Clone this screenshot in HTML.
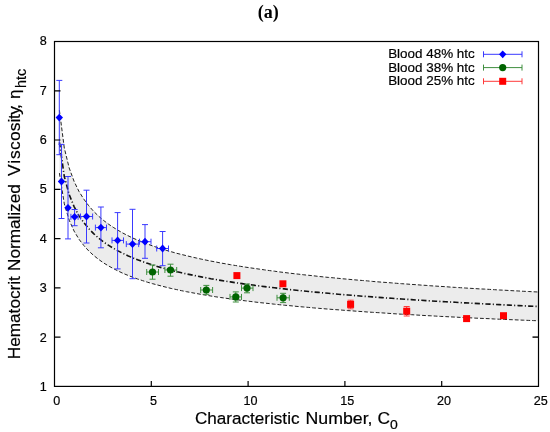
<!DOCTYPE html>
<html><head><meta charset="utf-8"><title>(a)</title>
<style>
html,body{margin:0;padding:0;background:#fff;}
body{width:550px;height:432px;overflow:hidden;}
svg{display:block;}
text{font-family:"Liberation Sans",Arial,Helvetica,sans-serif;fill:#000;stroke:#000;stroke-width:0.2px;}
.ttl{font-family:"Liberation Serif","Times New Roman",serif;font-weight:bold;font-size:18px;stroke:none;}
.tk{font-size:13.2px;}
.lg{font-size:13.45px;}
.ax{font-size:17.45px;}
.sub{font-size:14px;}
.sub2{font-size:14.4px;}
</style></head><body>
<svg width="550" height="432" viewBox="0 0 550 432">
<rect x="0" y="0" width="550" height="432" fill="#ffffff"/>
<text class="ttl" x="268.3" y="18.4" text-anchor="middle">(a)</text>
<path d="M59.4 110.2 L64.3 148.0 L69.2 168.0 L74.1 181.4 L78.9 191.3 L83.8 199.1 L88.7 205.7 L93.6 211.3 L98.5 216.1 L103.4 220.3 L108.3 224.0 L113.2 227.3 L118.1 230.3 L122.9 233.1 L127.8 235.6 L132.7 238.0 L137.6 240.1 L142.5 242.1 L147.4 244.0 L152.3 245.8 L157.2 247.5 L162.1 249.0 L166.9 250.5 L171.8 251.9 L176.7 253.3 L181.6 254.5 L186.5 255.7 L191.4 256.9 L196.3 258.0 L201.2 259.1 L206.1 260.1 L210.9 261.1 L215.8 262.0 L220.7 263.0 L225.6 263.8 L230.5 264.7 L235.4 265.5 L240.3 266.3 L245.2 267.1 L250.1 267.8 L254.9 268.5 L259.8 269.2 L264.7 269.9 L269.6 270.6 L274.5 271.2 L279.4 271.9 L284.3 272.5 L289.2 273.1 L294.1 273.7 L298.9 274.2 L303.8 274.8 L308.7 275.3 L313.6 275.8 L318.5 276.4 L323.4 276.9 L328.3 277.4 L333.2 277.8 L338.1 278.3 L342.9 278.8 L347.8 279.2 L352.7 279.7 L357.6 280.1 L362.5 280.5 L367.4 280.9 L372.3 281.4 L377.2 281.8 L382.1 282.2 L386.9 282.5 L391.8 282.9 L396.7 283.3 L401.6 283.7 L406.5 284.0 L411.4 284.4 L416.3 284.7 L421.2 285.1 L426.1 285.4 L430.9 285.8 L435.8 286.1 L440.7 286.4 L445.6 286.7 L450.5 287.1 L455.4 287.4 L460.3 287.7 L465.2 288.0 L470.1 288.3 L474.9 288.6 L479.8 288.9 L484.7 289.1 L489.6 289.4 L494.5 289.7 L499.4 290.0 L504.3 290.2 L509.2 290.5 L514.1 290.8 L518.9 291.0 L523.8 291.3 L528.7 291.5 L533.6 291.8 L538.5 292.0 L538.5 320.8 L533.6 320.6 L528.7 320.4 L523.8 320.2 L518.9 320.0 L514.1 319.8 L509.2 319.6 L504.3 319.4 L499.4 319.2 L494.5 319.0 L489.6 318.7 L484.7 318.5 L479.8 318.3 L474.9 318.1 L470.1 317.8 L465.2 317.6 L460.3 317.4 L455.4 317.1 L450.5 316.9 L445.6 316.6 L440.7 316.4 L435.8 316.1 L430.9 315.8 L426.1 315.6 L421.2 315.3 L416.3 315.0 L411.4 314.7 L406.5 314.4 L401.6 314.2 L396.7 313.9 L391.8 313.6 L386.9 313.2 L382.1 312.9 L377.2 312.6 L372.3 312.3 L367.4 312.0 L362.5 311.6 L357.6 311.3 L352.7 310.9 L347.8 310.6 L342.9 310.2 L338.1 309.8 L333.2 309.5 L328.3 309.1 L323.4 308.7 L318.5 308.3 L313.6 307.9 L308.7 307.4 L303.8 307.0 L298.9 306.6 L294.1 306.1 L289.2 305.6 L284.3 305.2 L279.4 304.7 L274.5 304.2 L269.6 303.6 L264.7 303.1 L259.8 302.6 L254.9 302.0 L250.1 301.4 L245.2 300.8 L240.3 300.2 L235.4 299.5 L230.5 298.9 L225.6 298.2 L220.7 297.5 L215.8 296.8 L210.9 296.0 L206.1 295.2 L201.2 294.4 L196.3 293.5 L191.4 292.6 L186.5 291.7 L181.6 290.7 L176.7 289.6 L171.8 288.6 L166.9 287.4 L162.1 286.2 L157.2 284.9 L152.3 283.6 L147.4 282.2 L142.5 280.6 L137.6 279.0 L132.7 277.2 L127.8 275.3 L122.9 273.3 L118.1 271.0 L113.2 268.5 L108.3 265.8 L103.4 262.8 L98.5 259.3 L93.6 255.4 L88.7 250.9 L83.8 245.5 L78.9 239.1 L74.1 231.1 L69.2 220.2 L64.3 203.9 L59.4 173.1 Z" fill="#ececec" stroke="none"/>
<path d="M59.4 110.2 L64.3 148.0 L69.2 168.0 L74.1 181.4 L78.9 191.3 L83.8 199.1 L88.7 205.7 L93.6 211.3 L98.5 216.1 L103.4 220.3 L108.3 224.0 L113.2 227.3 L118.1 230.3 L122.9 233.1 L127.8 235.6 L132.7 238.0 L137.6 240.1 L142.5 242.1 L147.4 244.0 L152.3 245.8 L157.2 247.5 L162.1 249.0 L166.9 250.5 L171.8 251.9 L176.7 253.3 L181.6 254.5 L186.5 255.7 L191.4 256.9 L196.3 258.0 L201.2 259.1 L206.1 260.1 L210.9 261.1 L215.8 262.0 L220.7 263.0 L225.6 263.8 L230.5 264.7 L235.4 265.5 L240.3 266.3 L245.2 267.1 L250.1 267.8 L254.9 268.5 L259.8 269.2 L264.7 269.9 L269.6 270.6 L274.5 271.2 L279.4 271.9 L284.3 272.5 L289.2 273.1 L294.1 273.7 L298.9 274.2 L303.8 274.8 L308.7 275.3 L313.6 275.8 L318.5 276.4 L323.4 276.9 L328.3 277.4 L333.2 277.8 L338.1 278.3 L342.9 278.8 L347.8 279.2 L352.7 279.7 L357.6 280.1 L362.5 280.5 L367.4 280.9 L372.3 281.4 L377.2 281.8 L382.1 282.2 L386.9 282.5 L391.8 282.9 L396.7 283.3 L401.6 283.7 L406.5 284.0 L411.4 284.4 L416.3 284.7 L421.2 285.1 L426.1 285.4 L430.9 285.8 L435.8 286.1 L440.7 286.4 L445.6 286.7 L450.5 287.1 L455.4 287.4 L460.3 287.7 L465.2 288.0 L470.1 288.3 L474.9 288.6 L479.8 288.9 L484.7 289.1 L489.6 289.4 L494.5 289.7 L499.4 290.0 L504.3 290.2 L509.2 290.5 L514.1 290.8 L518.9 291.0 L523.8 291.3 L528.7 291.5 L533.6 291.8 L538.5 292.0" fill="none" stroke="#222" stroke-width="1" stroke-dasharray="3.8 2"/>
<path d="M59.4 173.1 L64.3 203.9 L69.2 220.2 L74.1 231.1 L78.9 239.1 L83.8 245.5 L88.7 250.9 L93.6 255.4 L98.5 259.3 L103.4 262.8 L108.3 265.8 L113.2 268.5 L118.1 271.0 L122.9 273.3 L127.8 275.3 L132.7 277.2 L137.6 279.0 L142.5 280.6 L147.4 282.2 L152.3 283.6 L157.2 284.9 L162.1 286.2 L166.9 287.4 L171.8 288.6 L176.7 289.6 L181.6 290.7 L186.5 291.7 L191.4 292.6 L196.3 293.5 L201.2 294.4 L206.1 295.2 L210.9 296.0 L215.8 296.8 L220.7 297.5 L225.6 298.2 L230.5 298.9 L235.4 299.5 L240.3 300.2 L245.2 300.8 L250.1 301.4 L254.9 302.0 L259.8 302.6 L264.7 303.1 L269.6 303.6 L274.5 304.2 L279.4 304.7 L284.3 305.2 L289.2 305.6 L294.1 306.1 L298.9 306.6 L303.8 307.0 L308.7 307.4 L313.6 307.9 L318.5 308.3 L323.4 308.7 L328.3 309.1 L333.2 309.5 L338.1 309.8 L342.9 310.2 L347.8 310.6 L352.7 310.9 L357.6 311.3 L362.5 311.6 L367.4 312.0 L372.3 312.3 L377.2 312.6 L382.1 312.9 L386.9 313.2 L391.8 313.6 L396.7 313.9 L401.6 314.2 L406.5 314.4 L411.4 314.7 L416.3 315.0 L421.2 315.3 L426.1 315.6 L430.9 315.8 L435.8 316.1 L440.7 316.4 L445.6 316.6 L450.5 316.9 L455.4 317.1 L460.3 317.4 L465.2 317.6 L470.1 317.8 L474.9 318.1 L479.8 318.3 L484.7 318.5 L489.6 318.7 L494.5 319.0 L499.4 319.2 L504.3 319.4 L509.2 319.6 L514.1 319.8 L518.9 320.0 L523.8 320.2 L528.7 320.4 L533.6 320.6 L538.5 320.8" fill="none" stroke="#222" stroke-width="1" stroke-dasharray="3.8 2"/>
<path d="M59.4 142.3 L64.3 176.5 L69.2 194.6 L74.1 206.6 L78.9 215.6 L83.8 222.6 L88.7 228.6 L93.6 233.6 L98.5 238.0 L103.4 241.8 L108.3 245.2 L113.2 248.2 L118.1 250.9 L122.9 253.4 L127.8 255.7 L132.7 257.8 L137.6 259.8 L142.5 261.6 L147.4 263.3 L152.3 264.9 L157.2 266.4 L162.1 267.8 L166.9 269.1 L171.8 270.4 L176.7 271.6 L181.6 272.8 L186.5 273.9 L191.4 274.9 L196.3 275.9 L201.2 276.9 L206.1 277.8 L210.9 278.7 L215.8 279.5 L220.7 280.4 L225.6 281.2 L230.5 281.9 L235.4 282.7 L240.3 283.4 L245.2 284.1 L250.1 284.7 L254.9 285.4 L259.8 286.0 L264.7 286.6 L269.6 287.2 L274.5 287.8 L279.4 288.4 L284.3 288.9 L289.2 289.5 L294.1 290.0 L298.9 290.5 L303.8 291.0 L308.7 291.5 L313.6 292.0 L318.5 292.4 L323.4 292.9 L328.3 293.3 L333.2 293.7 L338.1 294.2 L342.9 294.6 L347.8 295.0 L352.7 295.4 L357.6 295.8 L362.5 296.2 L367.4 296.5 L372.3 296.9 L377.2 297.3 L382.1 297.6 L386.9 298.0 L391.8 298.3 L396.7 298.7 L401.6 299.0 L406.5 299.3 L411.4 299.6 L416.3 300.0 L421.2 300.3 L426.1 300.6 L430.9 300.9 L435.8 301.2 L440.7 301.5 L445.6 301.7 L450.5 302.0 L455.4 302.3 L460.3 302.6 L465.2 302.9 L470.1 303.1 L474.9 303.4 L479.8 303.6 L484.7 303.9 L489.6 304.1 L494.5 304.4 L499.4 304.6 L504.3 304.9 L509.2 305.1 L514.1 305.4 L518.9 305.6 L523.8 305.8 L528.7 306.1 L533.6 306.3 L538.5 306.5" fill="none" stroke="#111" stroke-width="1.6" stroke-dasharray="5.2 2.2 1.1 2.2"/>
<g fill="none" stroke="#3a3aff" stroke-width="1">
<path d="M59.3 80.4 V154.7 M56.3 80.4 H62.3 M56.3 154.7 H62.3"/>
<path d="M61.5 144.4 V218.5 M58.5 144.4 H64.5 M58.5 218.5 H64.5"/>
<path d="M68.0 176.5 V238.9 M65.0 176.5 H71.0 M65.0 238.9 H71.0"/>
<path d="M74.6 209.5 V225.7 M71.6 209.5 H77.6 M71.6 225.7 H77.6"/><path d="M70.9 216.8 H78.1 M70.9 213.8 V219.8 M78.1 213.8 V219.8"/>
<path d="M86.5 190.2 V243.0 M83.5 190.2 H89.5 M83.5 243.0 H89.5"/><path d="M80.5 216.5 H92.6 M80.5 213.5 V219.5 M92.6 213.5 V219.5"/>
<path d="M100.9 207.0 V247.8 M97.9 207.0 H103.9 M97.9 247.8 H103.9"/><path d="M95.4 227.6 H106.5 M95.4 224.6 V230.6 M106.5 224.6 V230.6"/>
<path d="M117.6 212.6 V268.9 M114.6 212.6 H120.6 M114.6 268.9 H120.6"/><path d="M112.0 240.4 H123.5 M112.0 237.4 V243.4 M123.5 237.4 V243.4"/>
<path d="M132.5 209.3 V278.7 M129.5 209.3 H135.5 M129.5 278.7 H135.5"/><path d="M126.3 244.1 H138.7 M126.3 241.1 V247.1 M138.7 241.1 V247.1"/>
<path d="M145.0 224.6 V258.3 M142.0 224.6 H148.0 M142.0 258.3 H148.0"/><path d="M139.5 241.7 H151.0 M139.5 238.7 V244.7 M151.0 238.7 V244.7"/>
<path d="M162.6 231.5 V265.7 M159.6 231.5 H165.6 M159.6 265.7 H165.6"/><path d="M156.7 248.5 H168.5 M156.7 245.5 V251.5 M168.5 245.5 V251.5"/>
</g>
<g fill="#0000ff">
<path d="M55.599999999999994 117.6 L59.3 113.69999999999999 L63.0 117.6 L59.3 121.5 Z"/>
<path d="M57.8 181.5 L61.5 177.6 L65.2 181.5 L61.5 185.4 Z"/>
<path d="M64.3 207.8 L68.0 203.9 L71.7 207.8 L68.0 211.70000000000002 Z"/>
<path d="M70.89999999999999 216.8 L74.6 212.9 L78.3 216.8 L74.6 220.70000000000002 Z"/>
<path d="M82.8 216.5 L86.5 212.6 L90.2 216.5 L86.5 220.4 Z"/>
<path d="M97.2 227.6 L100.9 223.7 L104.60000000000001 227.6 L100.9 231.5 Z"/>
<path d="M113.89999999999999 240.4 L117.6 236.5 L121.3 240.4 L117.6 244.3 Z"/>
<path d="M128.8 244.1 L132.5 240.2 L136.2 244.1 L132.5 248.0 Z"/>
<path d="M141.3 241.7 L145.0 237.79999999999998 L148.7 241.7 L145.0 245.6 Z"/>
<path d="M158.9 248.5 L162.6 244.6 L166.29999999999998 248.5 L162.6 252.4 Z"/>
</g>
<g fill="none" stroke="#3f8f3f" stroke-width="1">
<path d="M152.5 265.0 V279.2 M149.5 265.0 H155.5 M149.5 279.2 H155.5"/><path d="M146.7 272.0 H158.5 M146.7 269.0 V275.0 M158.5 269.0 V275.0"/>
<path d="M170.5 264.2 V276.2 M167.5 264.2 H173.5 M167.5 276.2 H173.5"/><path d="M164.9 270.0 H176.7 M164.9 267.0 V273.0 M176.7 267.0 V273.0"/>
<path d="M206.3 285.4 V294.3 M203.3 285.4 H209.3 M203.3 294.3 H209.3"/><path d="M200.7 290.0 H212.6 M200.7 287.0 V293.0 M212.6 287.0 V293.0"/>
<path d="M235.8 291.9 V302.0 M232.8 291.9 H238.8 M232.8 302.0 H238.8"/><path d="M230.0 296.9 H241.5 M230.0 293.9 V299.9 M241.5 293.9 V299.9"/>
<path d="M247.0 284.0 V292.8 M244.0 284.0 H250.0 M244.0 292.8 H250.0"/><path d="M241.5 288.1 H253.0 M241.5 285.1 V291.1 M253.0 285.1 V291.1"/>
<path d="M283.1 293.3 V302.6 M280.1 293.3 H286.1 M280.1 302.6 H286.1"/><path d="M277.0 297.8 H289.3 M277.0 294.8 V300.8 M289.3 294.8 V300.8"/>
</g>
<g fill="#006400">
<circle cx="152.5" cy="272.0" r="3.6"/>
<circle cx="170.5" cy="270.0" r="3.6"/>
<circle cx="206.3" cy="290.0" r="3.6"/>
<circle cx="235.8" cy="296.9" r="3.6"/>
<circle cx="247.0" cy="288.1" r="3.6"/>
<circle cx="283.1" cy="297.8" r="3.6"/>
</g>
<g fill="none" stroke="#ff3a3a" stroke-width="1">


<path d="M350.6 300.2 V308.8 M347.6 300.2 H353.6 M347.6 308.8 H353.6"/>
<path d="M406.7 306.5 V316.0 M403.7 306.5 H409.7 M403.7 316.0 H409.7"/>


</g>
<g fill="#ff0000">
<rect x="233.4" y="272.1" width="7" height="7"/>
<rect x="279.4" y="280.3" width="7" height="7"/>
<rect x="347.1" y="300.9" width="7" height="7"/>
<rect x="403.2" y="307.7" width="7" height="7"/>
<rect x="463.1" y="315.1" width="7" height="7"/>
<rect x="500.0" y="312.2" width="7" height="7"/>
</g>
<rect x="54.5" y="41.5" width="484.0" height="344.9" fill="none" stroke="#000" stroke-width="1.2"/>
<path d="M151.3 386.4 V380.9 M248.1 386.4 V380.9 M344.9 386.4 V380.9 M441.7 386.4 V380.9 M54.5 337.1 H60.5 M54.5 287.9 H60.5 M54.5 238.6 H60.5 M54.5 189.3 H60.5 M54.5 140.0 H60.5 M54.5 90.8 H60.5" fill="none" stroke="#000" stroke-width="1.2"/>
<path d="M538.5 337.1 H532.5" fill="none" stroke="#000" stroke-width="1.4"/>
<g class="tk"><text transform="translate(56.8 404.5) scale(0.955 1)" text-anchor="middle">0</text><text transform="translate(153.6 404.5) scale(0.955 1)" text-anchor="middle">5</text><text transform="translate(250.4 404.5) scale(0.955 1)" text-anchor="middle">10</text><text transform="translate(347.2 404.5) scale(0.955 1)" text-anchor="middle">15</text><text transform="translate(444.0 404.5) scale(0.955 1)" text-anchor="middle">20</text><text transform="translate(540.8 404.5) scale(0.955 1)" text-anchor="middle">25</text><text transform="translate(46.7 391.2) scale(0.955 1)" text-anchor="end">1</text><text transform="translate(46.7 341.8) scale(0.955 1)" text-anchor="end">2</text><text transform="translate(46.7 292.3) scale(0.955 1)" text-anchor="end">3</text><text transform="translate(46.7 242.9) scale(0.955 1)" text-anchor="end">4</text><text transform="translate(46.7 193.4) scale(0.955 1)" text-anchor="end">5</text><text transform="translate(46.7 144.0) scale(0.955 1)" text-anchor="end">6</text><text transform="translate(46.7 94.5) scale(0.955 1)" text-anchor="end">7</text><text transform="translate(46.7 45.1) scale(0.955 1)" text-anchor="end">8</text></g>
<g class="lg" text-anchor="end">
<text x="474.8" y="58.1">Blood 48% htc</text>
<text x="474.8" y="71.7">Blood 38% htc</text>
<text x="474.8" y="85.2">Blood 25% htc</text>
</g>
<g fill="none" stroke-width="1">
<path d="M483.5 54.3 H522 M483.5 51.3 V57.3 M522 51.3 V57.3" stroke="#3a3aff"/>
<path d="M483.5 67.6 H522 M483.5 64.6 V70.6 M522 64.6 V70.6" stroke="#3f8f3f"/>
<path d="M483.5 81.3 H522 M483.5 78.3 V84.3 M522 78.3 V84.3" stroke="#ff3a3a"/>
</g>
<path d="M499 54.3 L502.7 50.4 L506.4 54.3 L502.7 58.2 Z" fill="#0000ff"/>
<circle cx="502.7" cy="67.6" r="3.6" fill="#006400"/>
<rect x="499.2" y="77.8" width="7" height="7" fill="#ff0000"/>
<text class="ax" transform="translate(0 424.2) scale(1 0.95)"><tspan x="194.9" textLength="104.6" lengthAdjust="spacingAndGlyphs">Characteristic</tspan> <tspan x="305.5" textLength="67.0" lengthAdjust="spacingAndGlyphs">Number,</tspan> <tspan x="377.4">C</tspan><tspan class="sub" dy="5.3">0</tspan></text>
<text class="ax" transform="translate(19.8 358.6) rotate(-90) scale(1 0.935)"><tspan x="-0.7" textLength="83.2" lengthAdjust="spacingAndGlyphs">Hematocrit</tspan> <tspan x="87.6" textLength="86.8" lengthAdjust="spacingAndGlyphs">Normalized</tspan> <tspan x="182.5" dx="0 1 0.8 0.4 0.3 0 0 -0.3 -0.7 -1.5">Viscosity,</tspan></text>
<text class="ax" style="font-size:16.2px" transform="translate(19.8 98.7) rotate(-90)">η</text>
<text class="sub2" transform="translate(26.2 88.1) rotate(-90)">htc</text>
</svg>
</body></html>
